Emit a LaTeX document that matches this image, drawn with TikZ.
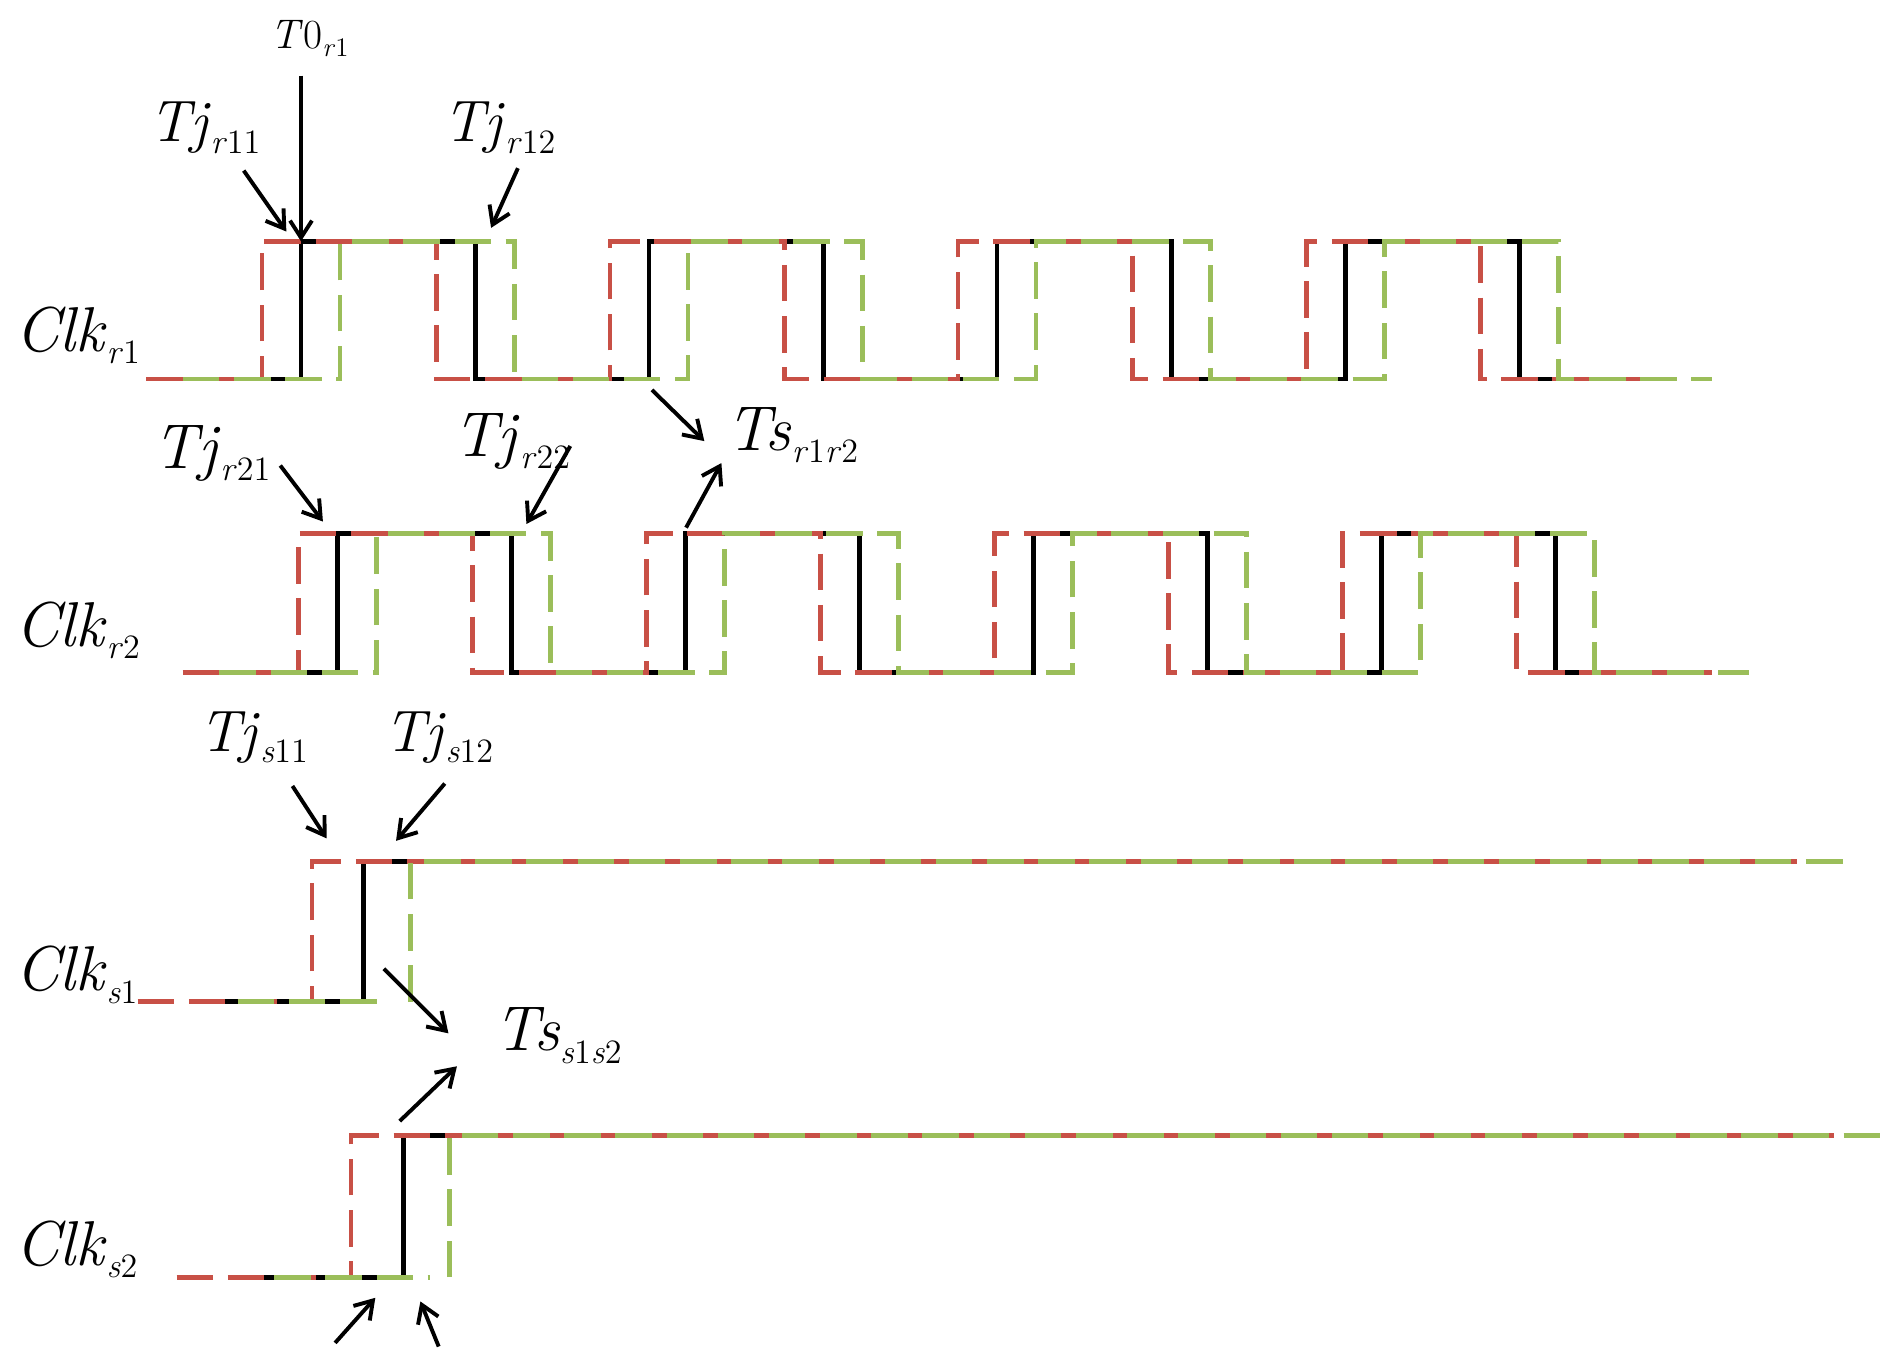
\documentclass[tikz,border=0pt]{standalone}
\usetikzlibrary{arrows.meta}
\begin{document}
\begin{tikzpicture}[x=0.5pt,y=-0.5pt,
  sig/.style={line width=2pt},
  blk/.style={sig,black},
  red/.style={sig,color={rgb,255:red,200;green,80;blue,70},dash pattern=on 15pt off 6pt},
  grn/.style={sig,color={rgb,255:red,155;green,190;blue,90},dash pattern=on 15pt off 6pt},
  arr/.style={line width=1.6pt,->,>={Straight Barb[length=7pt,width=9pt]}},
  lbl/.style={font=\fontsize{24}{28}\selectfont,inner sep=0pt},
  big/.style={lbl,font=\fontsize{26}{30}\selectfont}]
\useasboundingbox (0,0) rectangle (1560,1118);
\newcommand{\Sub}[2]{\textit{#1}\raisebox{-0.45ex}{\fontsize{14}{16}\selectfont #2}}
\newcommand{\clk}[6]{\draw[#1] (#5,#3) foreach \k in {0,1,2,3} {
   -- ({#2+\k*285.6},#3) -- ({#2+\k*285.6},#4) -- ({#2+\k*285.6+143},#4) -- ({#2+\k*285.6+143},#3)} -- (#6,#3);}
\newcommand{\stp}[6]{\draw[#1] (#5,#3) -- (#2,#3) -- (#2,#4) -- (#6,#4);}
% Clk r1
\clk{blk}{247}{311}{198}{120}{1375}
\clk{red}{215}{311}{198}{120}{1375}
\clk{grn}{279}{311}{198}{150}{1405}
% Clk r2
\clk{blk}{277}{552}{438}{150}{1405}
\clk{red}{245}{552}{438}{150}{1405}
\clk{grn}{309}{552}{438}{180}{1435}
% Clk s1
\stp{blk}{298}{822}{707}{160}{1475}
\stp{red}{256}{822}{707}{113}{1475}
\draw[grn] (195,822) -- (320,822);
\draw[grn] (337,822) -- (337,707) -- (1515,707);
% Clk s2
\stp{blk}{331}{1048}{932}{190}{1505}
\stp{red}{288}{1048}{932}{145}{1505}
\draw[grn] (225,1048) -- (353,1048);
\draw[grn] (369,1048) -- (369,932) -- (1545,932);
% names
\node[big,anchor=west] (c1) at (12,275) {\Sub{Clk}{\textit{r}1}};
\node[big,anchor=west] (c2) at (12,517) {\Sub{Clk}{\textit{r}2}};
\node[big,anchor=west] (c3) at (12,800) {\Sub{Clk}{\textit{s}1}};
\node[big,anchor=west] (c4) at (12,1025) {\Sub{Clk}{\textit{s}2}};
% labels
\node[lbl,font=\fontsize{17}{20}\selectfont] (t0) at (254,32) {\textit{T}0\raisebox{-0.45ex}{\fontsize{11}{12}\selectfont\textit{r}1}};
\draw[arr] (247,62) -- (247,198);
\node[lbl] (a) at (168,105) {\Sub{Tj}{\textit{r}11}};
\draw[arr] (200,140) -- (235,190);
\node[lbl] (b) at (410,105) {\Sub{Tj}{\textit{r}12}};
\draw[arr] (425,138) -- (403,187);
\node[big] (ts1) at (650,357) {\Sub{Ts}{\textit{r}1\textit{r}2}};
\draw[arr] (535,320) -- (578,362);
\draw[arr] (563,433) -- (592,380);
\node[big] (c) at (174,372) {\Sub{Tj}{\textit{r}21}};
\draw[arr] (230,382) -- (265,428);
\node[big] (d) at (420,362) {\Sub{Tj}{\textit{r}22}};
\draw[arr] (468,366) -- (432,430);
\node[lbl] (e) at (208,605) {\Sub{Tj}{\textit{s}11}};
\draw[arr] (240,645) -- (268,688);
\node[lbl] (f) at (360,605) {\Sub{Tj}{\textit{s}12}};
\draw[arr] (365,643) -- (325,690);
\node[big] (ts2) at (458,850) {\Sub{Ts}{\textit{s}1\textit{s}2}};
\draw[arr] (315,795) -- (368,848);
\draw[arr] (328,920) -- (375,875);
\draw[arr] (275,1102) -- (308,1065);
\draw[arr] (360,1105) -- (345,1068);
\end{tikzpicture}
\end{document}
